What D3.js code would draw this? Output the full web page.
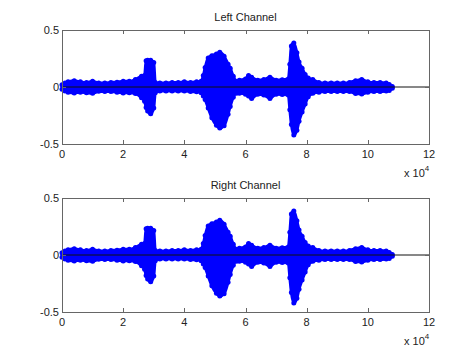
<!DOCTYPE html>
<meta charset="utf-8">
<style>
    body { margin: 0; background: #fff; }
    text {
        font-family: Arial, "Liberation Sans", sans-serif;
        font-size: 11px;
        fill: #222;
    }
    .frame { fill: none; stroke: #666; stroke-width: 1px; }
    .tick { stroke: #666; stroke-width: 1px; }
    .wave { fill: #0000ff; stroke: #0000ff; stroke-width: 3px; stroke-linejoin: round; }
    .zero { stroke: #111; stroke-width: 1px; }
</style>
<body>
    <svg width="474" height="355"></svg>
</body>
<script src="https://d3js.org/d3.v7.min.js"></script>
<script>

    // sample index (x 10^4) where the envelope was read
    var samplePos = [0, 0.1, 0.2, 0.4, 0.6, 0.8, 1.0, 1.2, 1.4, 1.6, 1.8, 2.0, 2.2, 2.4, 2.6, 2.7, 2.75, 2.8, 2.9, 3.0,
        3.05, 3.2, 3.4, 3.6, 3.8, 4.0, 4.2, 4.4, 4.55, 4.62, 4.68, 4.78, 4.9, 5.05, 5.16, 5.3, 5.43, 5.5, 5.6, 5.7, 5.8, 6.0,
        6.1, 6.2, 6.4, 6.6, 6.8, 7.0, 7.2, 7.4, 7.45, 7.5, 7.58, 7.68, 7.75, 7.85, 7.95, 8.05, 8.2, 8.4, 8.6, 8.8, 9.0,
        9.2, 9.4, 9.6, 9.8, 10.0, 10.2, 10.4, 10.6, 10.7, 10.8];

    // upper / lower envelope of the waveform
    var leftUpper = [0.02, 0.035, 0.045, 0.055, 0.045, 0.04, 0.05, 0.035, 0.035, 0.04, 0.042, 0.05, 0.05, 0.065, 0.095, 0.1, 0.23, 0.235, 0.235, 0.215,
        0.04, 0.035, 0.035, 0.04, 0.04, 0.045, 0.04, 0.045, 0.05, 0.1, 0.17, 0.255, 0.275, 0.29, 0.305, 0.27, 0.2, 0.165, 0.095, 0.05, 0.06, 0.07,
        0.1, 0.085, 0.06, 0.065, 0.085, 0.06, 0.063, 0.07, 0.2, 0.36, 0.385, 0.3, 0.22, 0.165, 0.11, 0.08, 0.065, 0.04, 0.035, 0.035, 0.035,
        0.035, 0.04, 0.055, 0.065, 0.045, 0.04, 0.04, 0.035, 0.022, 0.005];
    var leftLower = [-0.02, -0.035, -0.045, -0.052, -0.045, -0.05, -0.055, -0.038, -0.04, -0.04, -0.045, -0.052, -0.05, -0.058, -0.095, -0.125, -0.18, -0.21, -0.235, -0.185,
        -0.05, -0.035, -0.035, -0.035, -0.035, -0.035, -0.04, -0.042, -0.05, -0.08, -0.11, -0.185, -0.27, -0.335, -0.36, -0.34, -0.24, -0.17, -0.09, -0.055, -0.055, -0.063,
        -0.08, -0.1, -0.063, -0.07, -0.1, -0.063, -0.065, -0.07, -0.2, -0.33, -0.42, -0.38, -0.3, -0.22, -0.15, -0.085, -0.055, -0.045, -0.04, -0.04, -0.04,
        -0.04, -0.04, -0.058, -0.062, -0.045, -0.04, -0.04, -0.035, -0.03, -0.01];

    // the two channels are practically the same signal
    var rightUpper = leftUpper.slice();
    var rightLower = leftLower.slice();

    var xTicks = [0, 2, 4, 6, 8, 10, 12];
    var yTicks = [-0.5, 0, 0.5];

    var svg = d3.select("svg");
    var left = 62, right = 429;

    var x = d3.scaleLinear().domain([0, 12]).range([left, right]);

    function drawPanel(top, bottom, title, upper, lower) {
        var y = d3.scaleLinear().domain([-0.5, 0.5]).range([bottom, top]);
        var g = svg.append("g");

        var rows = samplePos.map(function (p, i) { return { p: p, hi: upper[i], lo: lower[i] }; });

        var area = d3.area()
            .x(function (d) { return x(d.p); })
            .y0(function (d) { return y(d.lo); })
            .y1(function (d) { return y(d.hi); })
            .curve(d3.curveMonotoneX);

        g.append("path")
            .datum(rows)
            .attr("class", "wave")
            .attr("d", area);

        // marker blobs along the edges
        ["hi", "lo"].forEach(function (k) {
            g.selectAll(".dot-" + k)
                .data(rows)
                .enter().append("circle")
                .attr("class", "dot-" + k)
                .attr("cx", function (d) { return x(d.p); })
                .attr("cy", function (d) { return y(d[k]); })
                .attr("r", 2.5)
                .style("fill", "#0000ff");
        });

        // zero line
        g.append("line")
            .attr("class", "zero")
            .attr("x1", x(0)).attr("x2", x(12))
            .attr("y1", y(0)).attr("y2", y(0));

        // frame and inward ticks
        g.append("rect")
            .attr("class", "frame")
            .attr("x", left + 0.5).attr("y", top + 0.5)
            .attr("width", right - left).attr("height", bottom - top);

        xTicks.forEach(function (t) {
            var px = Math.round(x(t)) + 0.5;
            g.append("line").attr("class", "tick")
                .attr("x1", px).attr("x2", px).attr("y1", bottom).attr("y2", bottom - 4);
            g.append("line").attr("class", "tick")
                .attr("x1", px).attr("x2", px).attr("y1", top).attr("y2", top + 4);
            g.append("text")
                .attr("x", x(t)).attr("y", bottom + 13.5)
                .style("text-anchor", "middle")
                .text(t);
        });

        yTicks.forEach(function (t) {
            var py = Math.round(y(t)) + 0.5;
            g.append("line").attr("class", "tick")
                .attr("x1", left).attr("x2", left + 4).attr("y1", py).attr("y2", py);
            g.append("line").attr("class", "tick")
                .attr("x1", right).attr("x2", right - 4).attr("y1", py).attr("y2", py);
            g.append("text")
                .attr("x", left - 3).attr("y", y(t) + 4)
                .style("text-anchor", "end")
                .text(t);
        });

        g.append("text")
            .attr("x", (left + right) / 2).attr("y", top - 9)
            .style("text-anchor", "middle")
            .text(title);

        var ex = g.append("text")
            .attr("x", 404).attr("y", bottom + 33);
        ex.append("tspan").text("x 10");
        ex.append("tspan").attr("dy", -6).style("font-size", "8px").text("4");
    }

    drawPanel(30, 144, "Left Channel", leftUpper, leftLower);
    drawPanel(198, 312, "Right Channel", rightUpper, rightLower);
</script>
